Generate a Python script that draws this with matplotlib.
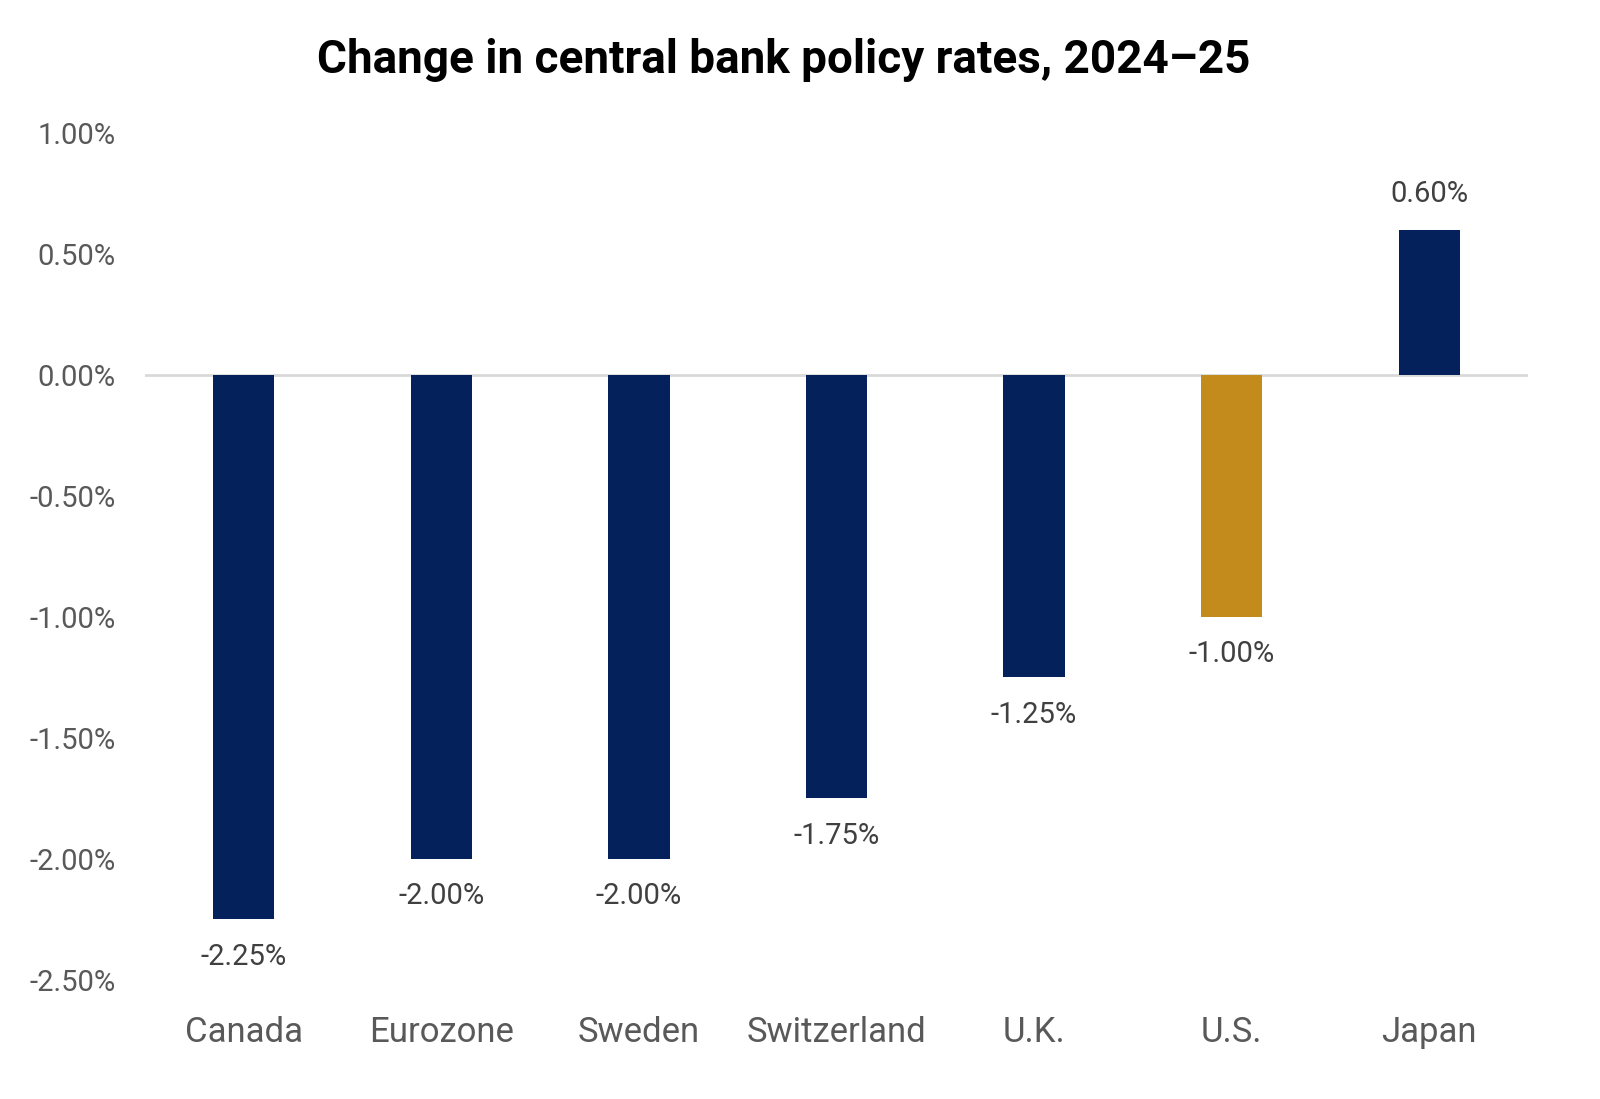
import matplotlib.pyplot as plt
from matplotlib.ticker import FuncFormatter

# data
countries = ["Canada", "Eurozone", "Sweden", "Switzerland", "U.K.", "U.S.", "Japan"]
rate_change = [-2.25, -2.00, -2.00, -1.75, -1.25, -1.00, 0.60]
highlight = "U.S."
y_ticks = [1.0, 0.5, 0.0, -0.5, -1.0, -1.5, -2.0, -2.5]

NAVY = "#05215B"
GOLD = "#C38A1C"

plt.rcParams["font.family"] = ["Liberation Sans Narrow", "Roboto", "DejaVu Sans"]

fig = plt.figure(figsize=(16, 10.99), dpi=100)
ax = fig.add_axes([0.0906, 0.1083, 0.8644, 0.7707])

x = list(range(len(countries)))
colors = [GOLD if c == highlight else NAVY for c in countries]
ax.bar(x, rate_change, width=0.31, color=colors, zorder=3)
ax.axhline(0, color="#D9D9D9", lw=2, zorder=2)

for xi, v in zip(x, rate_change):
    off = 26 if v > 0 else -27
    ax.annotate(f"{v:.2f}%", (xi, v), xytext=(0, off), textcoords="offset points",
                ha="center", va="center", fontsize=21, color="#404040")

ax.set_xlim(-0.5, len(countries) - 0.5)
ax.set_ylim(min(y_ticks), max(y_ticks))
ax.set_yticks(y_ticks)
ax.yaxis.set_major_formatter(FuncFormatter(lambda v, _: f"{v:.2f}%"))
ax.set_xticks(x)
ax.set_xticklabels(countries)
ax.tick_params(axis="y", length=0, labelsize=21, labelcolor="#595959", pad=21)
ax.tick_params(axis="x", length=0, labelsize=25, labelcolor="#595959", pad=26)
for s in ax.spines.values():
    s.set_visible(False)

fig.text(0.49, 0.945, "Change in central bank policy rates, 2024\u201325",
         ha="center", va="center", fontsize=33, fontweight="bold", color="black")

fig.savefig("out.png", dpi=100, facecolor="white")
